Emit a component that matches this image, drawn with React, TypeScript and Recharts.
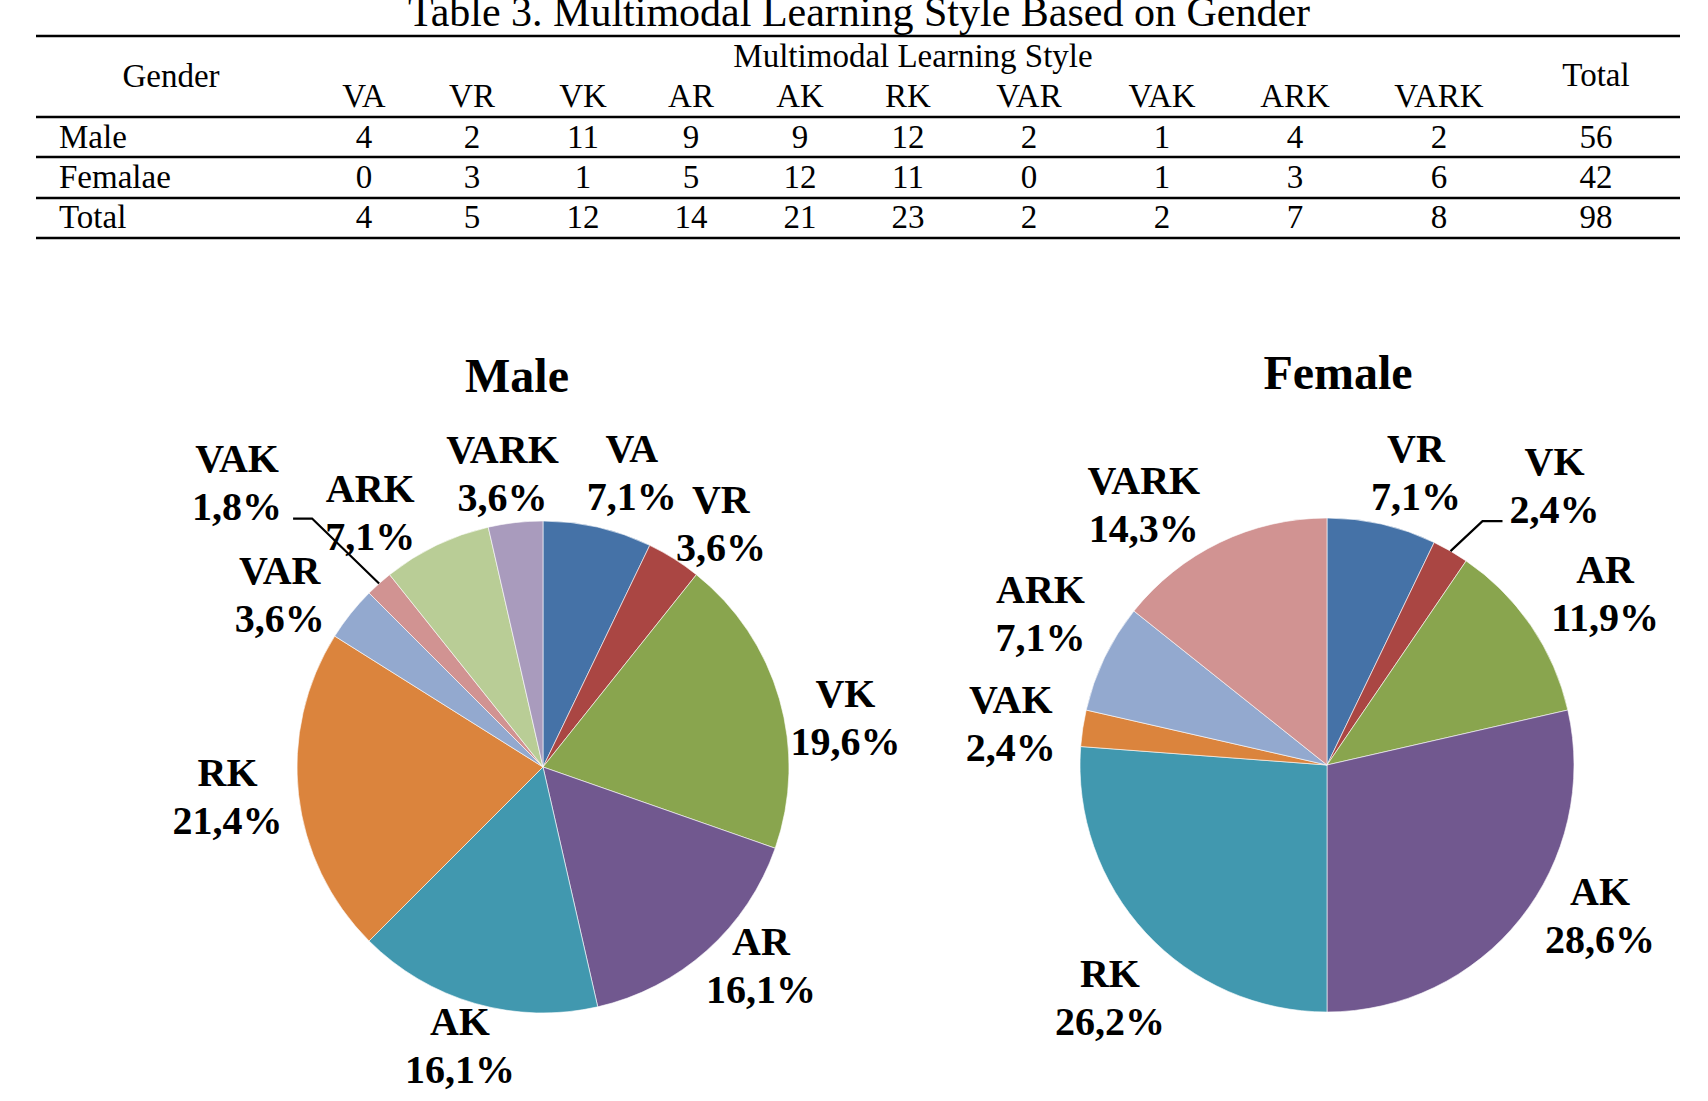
import { Cell, Pie, PieChart } from "recharts";

// learning style categories, in the order used by both the table and the pies
const styles = ["VA", "VR", "VK", "AR", "AK", "RK", "VAR", "VAK", "ARK", "VARK"];
const maleCounts = [4, 2, 11, 9, 9, 12, 2, 1, 4, 2];
const femaleCounts = [0, 3, 1, 5, 12, 11, 0, 1, 3, 6];
const totalCounts = [4, 5, 12, 14, 21, 23, 2, 2, 7, 8];
const rowLabels = ["Male", "Femalae", "Total"];
const rowTotals = [56, 42, 98];

const palette = [
  "#4572A7",
  "#AA4643",
  "#89A54E",
  "#71588F",
  "#4198AF",
  "#DB843D",
  "#93A9CF",
  "#D19392",
  "#B9CD96",
  "#A99BBD",
];

// where each data label sits, relative to the rim point at the slice's mid angle
const maleLabelShift: Record<string, [number, number]> = {
  VA: [34, -65],
  VR: [47, -46],
  VK: [66, 8],
  AR: [54, 5],
  AK: [-15, 32],
  RK: [-71, -9],
  VAR: [-71, -30],
  VAK: [-142, -112],
  ARK: [-66, -43],
  VARK: [-13, -60],
};
const femaleLabelShift: Record<string, [number, number]> = {
  VR: [34, -62],
  VK: [104, -76],
  AR: [74, -43],
  AK: [80, -14],
  RK: [-36, 54],
  VAK: [-72, -15],
  ARK: [-64, -55],
  VARK: [-76, -48],
};
// leader lines: elbow and end, relative to the rim point
const maleLeaders: Record<string, [number, number, number, number]> = {
  VAK: [-67, -65, -86, -65],
};
const femaleLeaders: Record<string, [number, number, number, number]> = {
  VK: [32, -30, 52, -30],
};

const SERIF = "'Liberation Serif', 'Times New Roman', serif";
const RAD = Math.PI / 180;

function toRows(counts: number[]) {
  return styles
    .map((name, i) => ({ name, value: counts[i], color: palette[0] }))
    .filter((r) => r.value > 0)
    .map((r, i) => ({ ...r, color: palette[i % palette.length] }));
}

const maleData = toRows(maleCounts);
const femaleData = toRows(femaleCounts);

function makeLabel(
  shift: Record<string, [number, number]>,
  leaders: Record<string, [number, number, number, number]>
) {
  return (props: any) => {
    const { cx, cy, midAngle, outerRadius, percent } = props;
    const name: string = props.name ?? props.payload?.name;
    const ex = cx + outerRadius * Math.cos(-midAngle * RAD);
    const ey = cy + outerRadius * Math.sin(-midAngle * RAD);
    const [dx, dy] = shift[name] ?? [0, 0];
    const pct = `${(percent * 100).toFixed(1).replace(".", ",")}%`;
    const lead = leaders[name];
    return (
      <g key={`lbl-${name}`}>
        {lead && (
          <polyline
            points={`${ex},${ey} ${ex + lead[0]},${ey + lead[1]} ${ex + lead[2]},${ey + lead[3]}`}
            fill="none"
            stroke="#000"
            strokeWidth={2.2}
          />
        )}
        <text
          x={ex + dx}
          y={ey + dy}
          textAnchor="middle"
          fontFamily={SERIF}
          fontWeight={700}
          fontSize={40}
          fill="#000"
        >
          <tspan x={ex + dx}>{name}</tspan>
          <tspan x={ex + dx} dy={48}>
            {pct}
          </tspan>
        </text>
      </g>
    );
  };
}

function GenderPie({
  data,
  width,
  cx,
  cy,
  radius,
  shift,
  leaders,
}: {
  data: { name: string; value: number; color: string }[];
  width: number;
  cx: number;
  cy: number;
  radius: number;
  shift: Record<string, [number, number]>;
  leaders: Record<string, [number, number, number, number]>;
}) {
  return (
    <PieChart width={width} height={801} margin={{ top: 0, right: 0, bottom: 0, left: 0 }}>
      <Pie
        data={data}
        dataKey="value"
        nameKey="name"
        cx={cx}
        cy={cy}
        outerRadius={radius}
        startAngle={90}
        endAngle={-270}
        stroke="#ffffff"
        strokeWidth={0.6}
        labelLine={false}
        label={makeLabel(shift, leaders)}
        isAnimationActive={false}
      >
        {data.map((d) => (
          <Cell key={d.name} fill={d.color} />
        ))}
      </Pie>
    </PieChart>
  );
}

const colX = [364, 472, 583, 691, 800, 908, 1029, 1162, 1295, 1439];
const totalX = 1596;
const rowBaselines = [147.5, 188, 228];
const ruleYs = [36, 117, 157, 198, 238];

function Table() {
  const rows = [maleCounts, femaleCounts, totalCounts];
  return (
    <svg
      width={1708}
      height={300}
      style={{ position: "absolute", left: 0, top: 0 }}
      fontFamily={SERIF}
      fill="#000"
    >
      <text x={859} y={26} fontSize={42} textAnchor="middle">
        Table 3. Multimodal Learning Style Based on Gender
      </text>
      {ruleYs.map((y) => (
        <line key={y} x1={36} x2={1680} y1={y} y2={y} stroke="#000" strokeWidth={2.4} />
      ))}
      <text x={171} y={87} fontSize={33} textAnchor="middle">
        Gender
      </text>
      <text x={913} y={67} fontSize={33} textAnchor="middle">
        Multimodal Learning Style
      </text>
      <text x={totalX} y={86} fontSize={33} textAnchor="middle">
        Total
      </text>
      {styles.map((s, i) => (
        <text key={s} x={colX[i]} y={107} fontSize={33} textAnchor="middle">
          {s}
        </text>
      ))}
      {rows.map((counts, r) => (
        <g key={rowLabels[r]}>
          <text x={59} y={rowBaselines[r]} fontSize={33}>
            {rowLabels[r]}
          </text>
          {counts.map((v, i) => (
            <text key={i} x={colX[i]} y={rowBaselines[r]} fontSize={33} textAnchor="middle">
              {v}
            </text>
          ))}
          <text x={totalX} y={rowBaselines[r]} fontSize={33} textAnchor="middle">
            {rowTotals[r]}
          </text>
        </g>
      ))}
    </svg>
  );
}

export default function App() {
  return (
    <div
      style={{
        position: "absolute",
        left: 0,
        top: 0,
        width: 1708,
        height: 1101,
        background: "#fff",
        overflow: "hidden",
      }}
    >
      <Table />
      <svg
        width={1708}
        height={420}
        style={{ position: "absolute", left: 0, top: 0 }}
        fontFamily={SERIF}
        fontWeight={700}
        fontSize={48}
        textAnchor="middle"
      >
        <text x={517} y={392}>
          Male
        </text>
        <text x={1338} y={389}>
          Female
        </text>
      </svg>
      <div style={{ position: "absolute", left: 0, top: 300 }}>
        <GenderPie
          data={maleData}
          width={950}
          cx={543}
          cy={467}
          radius={246}
          shift={maleLabelShift}
          leaders={maleLeaders}
        />
      </div>
      <div style={{ position: "absolute", left: 950, top: 300 }}>
        <GenderPie
          data={femaleData}
          width={758}
          cx={377}
          cy={465}
          radius={247}
          shift={femaleLabelShift}
          leaders={femaleLeaders}
        />
      </div>
    </div>
  );
}
